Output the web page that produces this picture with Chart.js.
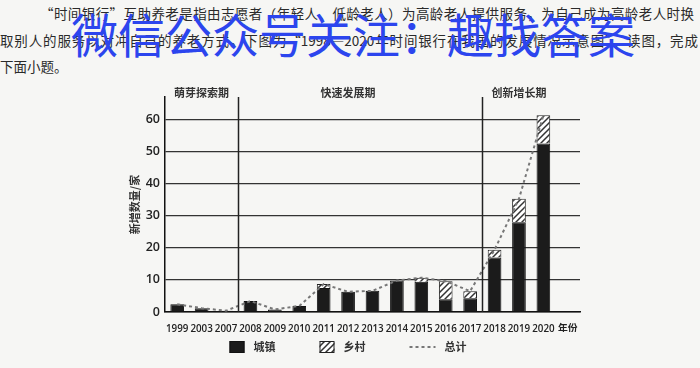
<!DOCTYPE html>
<html lang="zh">
<head>
<meta charset="UTF-8">
<title>时间银行发展情况</title>
<script src="https://cdn.jsdelivr.net/npm/chart.js"></script>
<style>
    body { margin: 0; width: 700px; height: 368px; background: #f6f6f4; position: relative; overflow: hidden; font-family: "Noto Sans CJK SC", sans-serif; }
    .line { position: absolute; font-size: 13.5px; color: #2a2a2a; white-space: nowrap; }
    .just { text-align: justify; text-align-last: justify; white-space: normal; }
    .mark { position: absolute; left: 71px; top: 9px; font-size: 47px; line-height: 1; font-weight: 400; color: #2c45ee; white-space: nowrap; }
    canvas { position: absolute; left: 0; top: 0; }
</style>
</head>
<body>
<div class="line just" style="left:40px; width:654px; top:3px;">“时间银行”互助养老是指由志愿者（年轻人、低龄老人）为高龄老人提供服务，为自己成为高龄老人时换</div>
<div class="line just" style="left:0; width:698px; top:30px;">取别人的服务以对冲自己的养老方式。下图为“1998—2020年时间银行在我国的发展情况示意图”。读图，完成</div>
<div class="line" style="left:0; top:56px;">下面小题。</div>
<div class="mark">微信公众号关注：趣找答案</div>
<canvas id="chart" width="700" height="368"></canvas>
<script>
    // categories (last slot carries the axis unit)
    const years = ['1999', '2003', '2007', '2008', '2009', '2010', '2011', '2012', '2013', '2014', '2015', '2016', '2017', '2018', '2019', '2020', '年份'];
    const urban = [2.4, 1.2, 0.4, 3.4, 0.8, 1.9, 7.5, 6.3, 6.6, 9.8, 9.4, 4, 4.3, 17, 28, 52.5];
    const rural = [null, null, null, null, null, null, 1.2, null, null, null, 1.3, 5.6, 2.2, 2.4, 7.3, 8.8];
    const total = [2.4, 1.2, 0.4, 3.4, 0.8, 1.9, 8.7, 6.3, 6.6, 9.8, 10.7, 9.6, 6.5, 19.4, 35.3, 61.3];
    const yTicks = [0, 10, 20, 30, 40, 50, 60];

    const periodNames = ['萌芽探索期', '快速发展期', '创新增长期'];
    const periodLabelAt = [1, 7, 14];
    const periodBreaks = [2.5, 12.5];

    function makeHatch() {
        let c = document.createElement('canvas');
        c.width = 6; c.height = 6;
        let g = c.getContext('2d');
        g.fillStyle = '#fff';
        g.fillRect(0, 0, 6, 6);
        g.strokeStyle = '#333';
        g.lineWidth = 1.5;
        g.beginPath();
        g.moveTo(0, 6); g.lineTo(6, 0);
        g.moveTo(-1, 1); g.lineTo(1, -1);
        g.moveTo(5, 7); g.lineTo(7, 5);
        g.stroke();
        return g.createPattern(c, 'repeat');
    }

    const labelFont = '600 11px "Noto Sans CJK SC", sans-serif';

    // period separators + names
    const periods = {
        id: 'periods',
        afterDatasetsDraw(chart) {
            let ctx = chart.ctx, x = chart.scales.x, area = chart.chartArea;
            ctx.save();
            ctx.strokeStyle = '#222';
            ctx.lineWidth = 1.5;
            periodBreaks.forEach(b => {
                let px = Math.round(x.getPixelForValue(b)) + 0.5;
                ctx.beginPath();
                ctx.moveTo(px, area.top);
                ctx.lineTo(px, area.bottom);
                ctx.stroke();
            });
            ctx.fillStyle = '#333';
            ctx.font = labelFont;
            ctx.textAlign = 'center';
            ctx.textBaseline = 'middle';
            periodNames.forEach((n, i) => {
                ctx.fillText(n, x.getPixelForValue(periodLabelAt[i]), area.top - 4);
            });
            ctx.restore();
        }
    };

    // legend row below the axis
    const legendRow = {
        id: 'legendRow',
        afterDraw(chart) {
            let ctx = chart.ctx;
            ctx.save();
            ctx.font = labelFont;
            let items = chart.data.datasets.map(ds => ({
                ds: ds,
                w: ds.type === 'line' ? 26 : 15,
                tw: ctx.measureText(ds.label).width
            }));
            let textGap = 9, itemGap = 44;
            let width = items.reduce((s, it) => s + it.w + textGap + it.tw, 0) + itemGap * (items.length - 1);
            let x = chart.width / 2 - 2 - width / 2;
            let y = 347;
            items.forEach(it => {
                let ds = it.ds;
                if (ds.type === 'line') {
                    ctx.strokeStyle = ds.borderColor;
                    ctx.lineWidth = ds.borderWidth;
                    ctx.setLineDash(ds.borderDash);
                    ctx.beginPath();
                    ctx.moveTo(x, y); ctx.lineTo(x + it.w, y);
                    ctx.stroke();
                    ctx.setLineDash([]);
                } else {
                    ctx.fillStyle = ds.backgroundColor;
                    ctx.fillRect(x, y - 6, it.w, 12);
                    ctx.strokeStyle = ds.borderColor;
                    ctx.lineWidth = 1;
                    ctx.strokeRect(x + 0.5, y - 5.5, it.w - 1, 11);
                }
                x += it.w + textGap;
                ctx.fillStyle = '#333';
                ctx.textBaseline = 'middle';
                ctx.fillText(ds.label, x, y);
                x += it.tw + itemGap;
            });
            ctx.restore();
        }
    };

    new Chart(document.getElementById('chart'), {
        data: {
            labels: years,
            datasets: [{
                type: 'bar',
                label: '城镇',
                data: urban,
                stack: 'bars',
                backgroundColor: '#1b1b1b',
                borderColor: '#111',
                borderWidth: 1,
                barPercentage: 0.56,
                categoryPercentage: 1,
                order: 2
            }, {
                type: 'bar',
                label: '乡村',
                data: rural,
                stack: 'bars',
                backgroundColor: makeHatch(),
                borderColor: '#222',
                borderWidth: 1,
                barPercentage: 0.56,
                categoryPercentage: 1,
                order: 2
            }, {
                type: 'line',
                label: '总计',
                data: total,
                stack: 'total',
                borderColor: '#777',
                borderWidth: 2,
                borderDash: [3, 3],
                pointRadius: 0,
                tension: 0,
                fill: false,
                order: 1
            }]
        },
        options: {
            responsive: false,
            animation: false,
            layout: { padding: { left: 128, right: 120, top: 97, bottom: 36 } },
            plugins: { legend: { display: false }, tooltip: { enabled: false } },
            scales: {
                x: {
                    stacked: true,
                    grid: { display: false },
                    border: { display: true, color: '#111', width: 1.5 },
                    ticks: {
                        autoSkip: false, maxRotation: 0, padding: 3, color: '#222',
                        font: { family: '"Open Sans", "Noto Sans CJK SC", sans-serif', size: 9.8, weight: '600' }
                    },
                    afterFit: s => { s.height = 20; }
                },
                y: {
                    stacked: true,
                    min: 0,
                    max: 67,
                    afterBuildTicks: s => { s.ticks = yTicks.map(v => ({ value: v })); },
                    grid: { color: '#333', lineWidth: 1.2, drawTicks: false },
                    border: { display: true, color: '#111', width: 1.5 },
                    ticks: {
                        padding: 5, color: '#222',
                        font: { family: '"Open Sans", sans-serif', size: 12.5, weight: '600' }
                    },
                    title: {
                        display: true, text: '新增数量/家', color: '#333', padding: 0,
                        font: { family: '"Noto Sans CJK SC", sans-serif', size: 11, weight: '600' }
                    },
                    afterFit: s => { s.width = 37; }
                }
            }
        },
        plugins: [periods, legendRow]
    });
</script>
</body>
</html>
